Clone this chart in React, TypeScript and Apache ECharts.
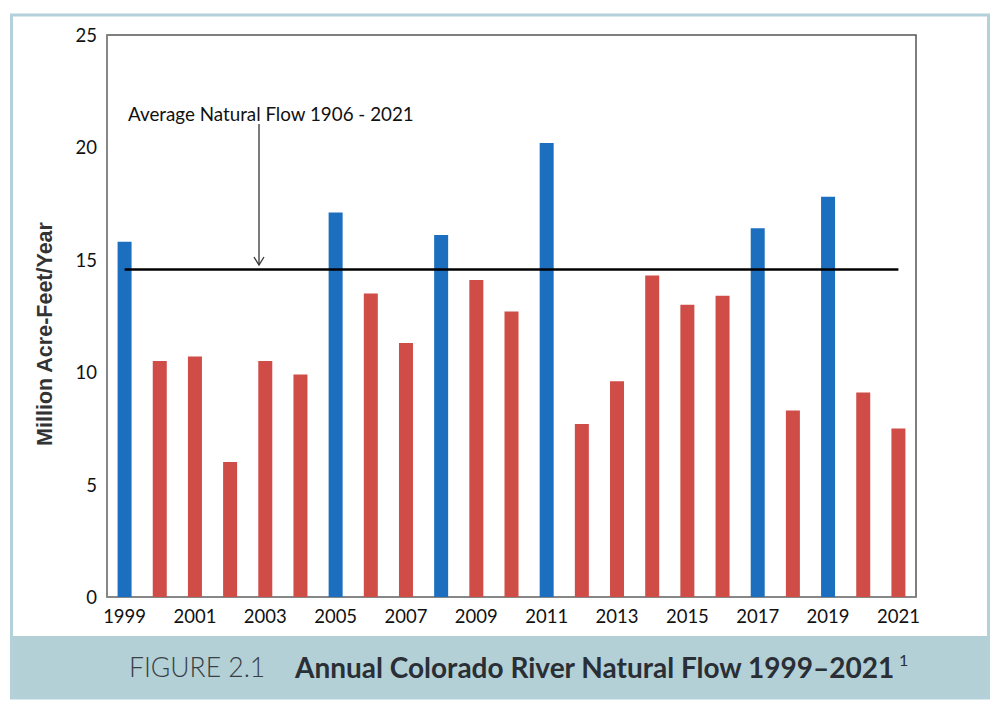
import React, { useEffect, useRef } from "react";
import * as echarts from "echarts";

// Colorado River natural flow, million acre-feet per year
const years: string[] = [
  "1999", "2000", "2001", "2002", "2003", "2004", "2005", "2006", "2007", "2008",
  "2009", "2010", "2011", "2012", "2013", "2014", "2015", "2016", "2017", "2018",
  "2019", "2020", "2021",
];
const flows: number[] = [
  15.8, 10.5, 10.7, 6.0, 10.5, 9.9, 17.1, 13.5, 11.3, 16.1,
  14.1, 12.7, 20.2, 7.7, 9.6, 14.3, 13.0, 13.4, 16.4, 8.3,
  17.8, 9.1, 7.5,
];
const averageFlow = 14.6;
const yTicks = { min: 0, max: 25, interval: 5 };

const ABOVE = "#1c6fbe";
const BELOW = "#cf4c47";
const FONT = "Lato, 'Open Sans', sans-serif";

export default function App() {
  const ref = useRef<HTMLDivElement>(null);

  useEffect(() => {
    if (!ref.current) return;
    const chart = echarts.init(ref.current, undefined, { renderer: "svg" });
    chart.setOption({
      animation: false,
      backgroundColor: "#ffffff",
      grid: {
        left: 107,
        top: 35,
        right: 84,
        bottom: 114,
        show: true,
        borderColor: "#555555",
        borderWidth: 1.5,
        backgroundColor: "transparent",
      },
      xAxis: {
        type: "category",
        data: years,
        axisLine: { show: true, lineStyle: { color: "#8a8a8a", width: 1.5 } },
        axisTick: { show: false },
        axisLabel: {
          interval: 1,
          color: "#111",
          fontSize: 18.5,
          fontFamily: FONT,
          margin: 9,
        },
      },
      yAxis: {
        type: "value",
        min: yTicks.min,
        max: yTicks.max,
        interval: yTicks.interval,
        axisLine: { show: true, lineStyle: { color: "#8a8a8a", width: 1.5 } },
        axisTick: { show: false },
        splitLine: { show: false },
        axisLabel: { color: "#111", fontSize: 18.5, fontFamily: FONT, margin: 10 },
      },
      series: [
        {
          type: "bar",
          data: flows,
          barWidth: 14,
          itemStyle: {
            color: (p: any) => (p.value > averageFlow ? ABOVE : BELOW),
          },
          markLine: {
            silent: true,
            symbol: "none",
            label: { show: false },
            lineStyle: { color: "#000", width: 2.5, type: "solid" },
            data: [
              [
                { coord: [years[0], averageFlow] },
                { coord: [years[years.length - 1], averageFlow] },
              ],
            ],
          },
        },
      ],
      graphic: [
        {
          type: "rect",
          silent: true,
          shape: { x: 10, y: 636, width: 980, height: 63 },
          style: { fill: "#b3d0d7" },
        },
        {
          type: "rect",
          silent: true,
          shape: { x: 11.5, y: 15, width: 977, height: 683 },
          style: { fill: "none", stroke: "#b4d1d9", lineWidth: 3 },
        },
        {
          type: "text",
          x: 45,
          y: 334,
          rotation: Math.PI / 2,
          style: {
            text: "Million Acre-Feet/Year",
            fontFamily: "'Liberation Sans', Arial, sans-serif",
            fontWeight: "bold",
            fontSize: 21.5,
            fill: "#333",
            align: "center",
            verticalAlign: "middle",
          },
        },
        {
          type: "text",
          x: 128,
          y: 113,
          style: {
            text: "Average Natural Flow 1906 - 2021",
            fontFamily: FONT,
            fontSize: 18.8,
            fill: "#111",
            verticalAlign: "middle",
          },
        },
        {
          type: "line",
          shape: { x1: 259, y1: 124, x2: 259, y2: 265 },
          style: { stroke: "#333", lineWidth: 1.3 },
        },
        {
          type: "polyline",
          shape: { points: [[254, 257], [259, 265], [264, 257]] },
          style: { stroke: "#333", lineWidth: 1.3, fill: "none" },
        },
        {
          type: "text",
          x: 129,
          y: 667,
          style: {
            text: "FIGURE 2.1",
            fontFamily: FONT,
            fontWeight: 300,
            fontSize: 26.5,
            fill: "#3a3e45",
            verticalAlign: "middle",
          },
        },
        {
          type: "text",
          x: 295,
          y: 667,
          style: {
            text: "Annual Colorado River Natural Flow 1999\u20132021",
            fontFamily: FONT,
            fontWeight: "bold",
            fontSize: 28,
            fill: "#2a2e35",
            verticalAlign: "middle",
          },
        },
        {
          type: "text",
          x: 899,
          y: 659,
          style: {
            text: "1",
            fontFamily: FONT,
            fontSize: 16,
            fill: "#2a2e35",
            verticalAlign: "middle",
          },
        },
      ],
    });
    return () => chart.dispose();
  }, []);

  return (
    <div
      ref={ref}
      style={{ position: "absolute", left: 0, top: 0, width: 1000, height: 711 }}
    />
  );
}
